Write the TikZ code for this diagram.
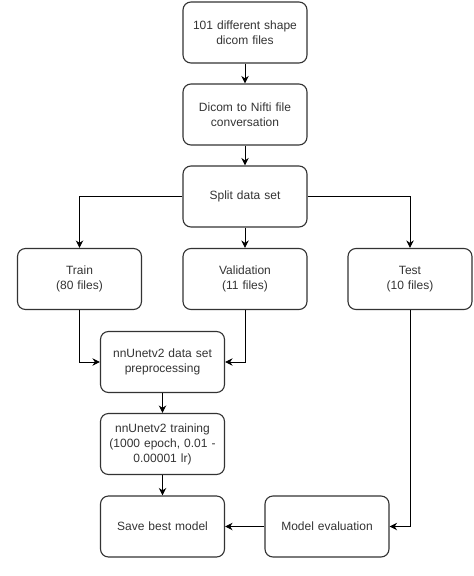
\documentclass[tikz,border=0pt]{standalone}
\usepackage{fontspec}
\setmainfont{Liberation Sans}
\usetikzlibrary{arrows.meta}
\definecolor{ink}{HTML}{333333}
\begin{document}
\begin{tikzpicture}[x=1pt,y=-1pt,
  box/.style={draw=ink,line width=1.1pt,rounded corners=8pt,minimum width=124pt,minimum height=61pt,
    align=center,text=ink,font=\fontsize{12}{15}\selectfont,inner sep=2pt,text width=120pt},
  conn/.style={draw=black,line width=0.9pt,-{Stealth[length=7.5pt,width=7.5pt]}}]
\useasboundingbox (0,0) rectangle (474,576);
\node[box] (src) at (245,32.5) {101 different shape\\dicom files};
\node[box] (conv) at (245,114.5) {Dicom to Nifti file\\conversation};
\node[box] (split) at (245,196.5) {Split data set};
\node[box] (train) at (79.5,279) {Train\\(80 files)};
\node[box] (val) at (245,279) {Validation\\(11 files)};
\node[box] (test) at (410,279) {Test\\(10 files)};
\node[box] (prep) at (162.5,362) {nnUnetv2 data set\\preprocessing};
\node[box] (trn) at (162.5,444) {nnUnetv2 training\\(1000 epoch, 0.01 -\\0.00001 lr)};
\node[box] (save) at (162.5,526.5) {Save best model};
\node[box] (eval) at (327,526.5) {Model evaluation};
\draw[conn] (src) -- (conv);
\draw[conn] (conv) -- (split);
\draw[conn] (split) -- (val);
\draw[conn] (split.west) -| (train.north);
\draw[conn] (split.east) -| (test.north);
\draw[conn] (train.south) |- (prep.west);
\draw[conn] (val.south) |- (prep.east);
\draw[conn] (prep) -- (trn);
\draw[conn] (trn) -- (save);
\draw[conn] (test.south) |- (eval.east);
\draw[conn] (eval) -- (save);
\end{tikzpicture}
\end{document}
